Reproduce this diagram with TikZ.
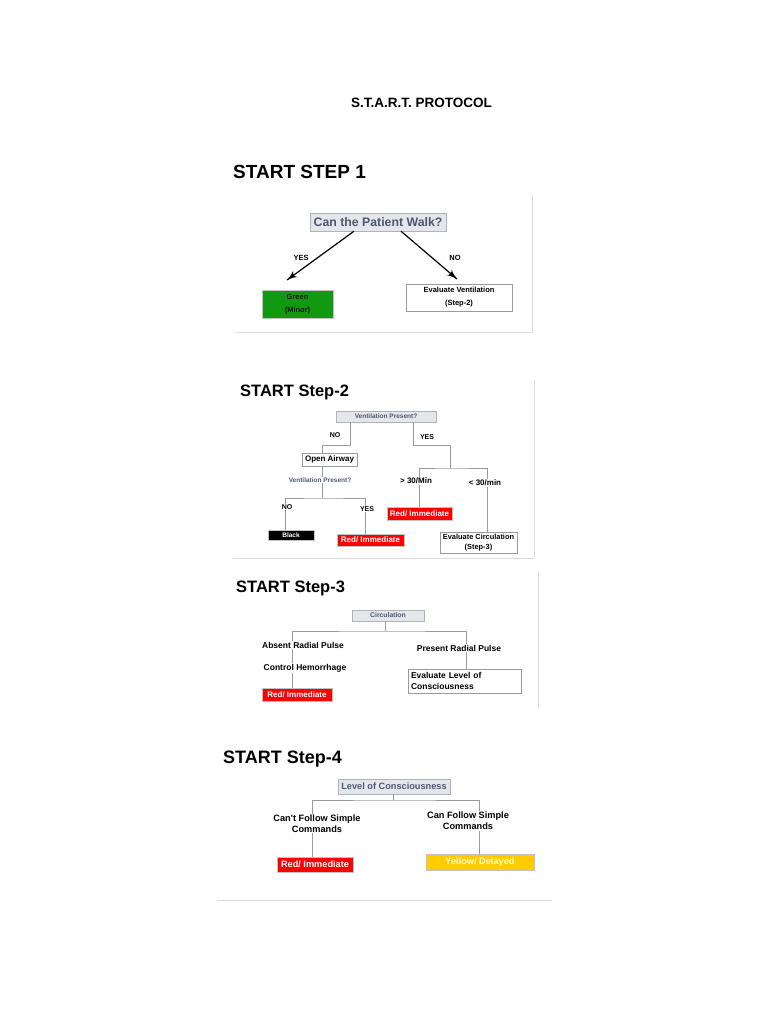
\documentclass[tikz,border=0pt]{standalone}
\usepackage{fontspec}
\setmainfont{Liberation Sans}
\usetikzlibrary{arrows}
\usetikzlibrary{decorations.markings}
\usetikzlibrary{positioning}
\definecolor{qfill}{HTML}{E4E6EA}
\definecolor{qline}{HTML}{AEB2BA}
\definecolor{qtext}{HTML}{4C5872}
\definecolor{treeline}{HTML}{9A9A9A}
\definecolor{panelgray}{HTML}{DCDCDC}
\definecolor{minorgreen}{HTML}{119911}
\definecolor{delayyellow}{HTML}{FFCC00}
\tikzset{->/.style = {decoration={markings,
                                  mark=at position 1 with {\arrow[scale=1.6]{latex'}}},
                      postaction={decorate}}}
\tikzset{qbox/.style = {draw=qline, fill=qfill, text=qtext, inner sep=0}}
\tikzset{wbox/.style = {draw=treeline, fill=white, inner sep=0, align=center}}
\tikzset{redbox/.style = {draw=treeline!60, fill=red, text=white, inner sep=0}}
\tikzset{lbl/.style = {fill=white, inner sep=1pt, align=center}}
\tikzset{tree/.style = {draw=treeline, line width=1pt}}
\tikzset{panelline/.style = {draw=panelgray, line width=1pt}}
\tikzset{steptitle/.style = {anchor=base west, inner sep=0}}

\begin{document}
\begin{tikzpicture}[x=1pt, y=-1pt]
    \useasboundingbox [fill=white] (0, 0) rectangle (768, 1024);
    \node [anchor=base, inner sep=0, font=\fontsize{13.5}{16}\selectfont\bfseries] (title) at (421.5, 108) {S.T.A.R.T. PROTOCOL};

    % step 1
    \node [steptitle, font=\fontsize{19}{22}\selectfont\bfseries] (titleA) at (233, 179) {START STEP 1};
    \node [qbox, minimum width=136pt, minimum height=18pt, font=\fontsize{12.3}{14}\selectfont\bfseries] (walk) at (378, 222) {Can the Patient Walk?};
    \node [draw=treeline!60, fill=minorgreen, text=black!90, inner sep=0, align=center, minimum width=71pt, minimum height=28pt,
           font=\fontsize{7.5}{13}\selectfont\bfseries] (green) at (297.5, 304) {Green\\(Minor)};
    \node [wbox, minimum width=106pt, minimum height=27pt, font=\fontsize{7.5}{13}\selectfont\bfseries] (evalvent) at (459, 297.5) {Evaluate Ventilation\\(Step-2)};
    \coordinate (yestip) at (287, 280);
    \coordinate (notip) at (457, 279);
    \draw [->, line width=1.2pt] ([xshift=-24pt]walk.south) -- (yestip);
    \draw [->, line width=1.2pt] ([xshift=23pt]walk.south) -- (notip);
    \node [lbl, font=\fontsize{7.5}{9}\selectfont\bfseries] (yesA) at (301, 258) {YES};
    \node [lbl, font=\fontsize{7.5}{9}\selectfont\bfseries] (noA) at (455, 258) {NO};
    \draw [panelline] (236, 332) -- (532, 332);
    \draw [panelline] (532, 195) -- (532, 332);

    % step 2
    \node [steptitle, font=\fontsize{16.5}{20}\selectfont\bfseries] (titleB) at (240, 396) {START Step-2};
    \node [qbox, minimum width=100pt, minimum height=11pt, font=\fontsize{6.5}{8}\selectfont\bfseries] (vent) at (386, 416.5) {Ventilation Present?};
    \node [wbox, minimum width=55pt, minimum height=13pt, font=\fontsize{8}{10}\selectfont\bfseries] (airway) at (329.5, 459.5) {Open Airway};
    \node [draw=treeline!60, fill=black, text=white, inner sep=0, minimum width=46pt, minimum height=10pt,
           font=\fontsize{6.5}{8}\selectfont\bfseries] (black) at (291, 535) {Black};
    \node [redbox, minimum width=67pt, minimum height=12pt, font=\fontsize{8}{10}\selectfont\bfseries] (redA) at (370.5, 540) {Red/ Immediate};
    \node [redbox, minimum width=65pt, minimum height=13pt, font=\fontsize{8}{10}\selectfont\bfseries] (redB) at (419.5, 513.5) {Red/ Immediate};
    \node [wbox, minimum width=77pt, minimum height=21pt, font=\fontsize{7.4}{10}\selectfont\bfseries] (circstep) at (478.5, 542.5) {Evaluate Circulation\\(Step-3)};
    \coordinate (airfork) at (322, 498);
    \coordinate (ratefork) at (450, 468);
    \draw [tree] ([xshift=-36pt]vent.south) -- ++(0, 23) -| ([xshift=-7.5pt]airway.north);
    \draw [tree] ([xshift=27pt]vent.south) -- ++(0, 23) -| (ratefork);
    \draw [tree] ([xshift=-7.5pt]airway.south) -- (airfork);
    \draw [tree] ([xshift=-6pt]black.north) |- (airfork) -| ([xshift=-5.5pt]redA.north);
    \draw [tree] (redB.north) |- (ratefork) -| ([xshift=8.5pt]circstep.north);
    \node [lbl, font=\fontsize{7}{9}\selectfont\bfseries] (noB) at (335, 435) {NO};
    \node [lbl, font=\fontsize{7}{9}\selectfont\bfseries] (yesB) at (427, 437) {YES};
    \node [lbl, text=qtext, font=\fontsize{6.5}{8}\selectfont\bfseries] (ventagain) at (320, 480) {Ventilation Present?};
    \node [lbl, font=\fontsize{7}{9}\selectfont\bfseries] (noC) at (287, 507) {NO};
    \node [lbl, font=\fontsize{7}{9}\selectfont\bfseries] (yesC) at (367, 509) {YES};
    \node [lbl, font=\fontsize{8}{10}\selectfont\bfseries] (fast) at (416, 481) {> 30/Min};
    \node [lbl, font=\fontsize{8}{10}\selectfont\bfseries] (slow) at (485, 483) {< 30/min};
    \draw [panelline] (534, 380) -- (534, 558);
    \draw [panelline] (233, 558) -- (534, 558);

    % step 3
    \node [steptitle, font=\fontsize{16.5}{20}\selectfont\bfseries] (titleC) at (236, 592) {START Step-3};
    \node [qbox, minimum width=72pt, minimum height=11pt, font=\fontsize{6.8}{8}\selectfont\bfseries] (circ) at (388, 615.5) {Circulation};
    \node [redbox, minimum width=70pt, minimum height=13pt, font=\fontsize{8}{10}\selectfont\bfseries] (redC) at (297, 694.5) {Red/ Immediate};
    \node [draw=treeline, fill=white, inner sep=3pt, minimum width=113pt, minimum height=24pt, text width=107pt, align=left,
           font=\fontsize{8.5}{11}\selectfont\bfseries] (conscious) at (464.5, 681) {Evaluate Level of\\Consciousness};
    \coordinate (circfork) at (385, 631);
    \draw [tree] ([xshift=-3pt]circ.south) -- (circfork);
    \draw [tree] ([xshift=-5pt]redC.north) |- (circfork) -| ([xshift=1.5pt]conscious.north);
    \node [lbl, font=\fontsize{8.5}{10}\selectfont\bfseries] (absent) at (303, 645) {Absent Radial Pulse};
    \node [lbl, font=\fontsize{8.5}{10}\selectfont\bfseries] (hemo) at (305, 668) {Control Hemorrhage};
    \node [lbl, font=\fontsize{8.5}{10}\selectfont\bfseries] (present) at (459, 648) {Present Radial Pulse};
    \draw [panelline] (538, 572) -- (538, 708);

    % step 4
    \node [steptitle, font=\fontsize{18}{22}\selectfont\bfseries] (titleD) at (223, 763) {START Step-4};
    \node [qbox, minimum width=112pt, minimum height=15pt, font=\fontsize{9.2}{11}\selectfont\bfseries] (loc) at (394, 786.5) {Level of Consciousness};
    \node [redbox, minimum width=76pt, minimum height=15pt, font=\fontsize{9.2}{11}\selectfont\bfseries] (redD) at (315, 864.5) {Red/ Immediate};
    \node [draw=treeline!60, fill=delayyellow, text=yellow!20, inner sep=0, minimum width=108pt, minimum height=16pt,
           font=\fontsize{9.2}{11}\selectfont\bfseries] (yellow) at (480, 862) {Yellow/ Delayed};
    \coordinate (locfork) at (393, 800);
    \draw [tree] ([xshift=-1pt]loc.south) -- (locfork);
    \draw [tree] ([xshift=-3pt]redD.north) |- (locfork) -| ([xshift=-1pt]yellow.north);
    \node [lbl, font=\fontsize{9.2}{11}\selectfont\bfseries] (cant) at (317, 823.5) {Can\textquotesingle t Follow Simple\\Commands};
    \node [lbl, font=\fontsize{9.2}{11}\selectfont\bfseries] (can) at (468, 821) {Can Follow Simple\\Commands};
    \draw [panelline] (217, 900) -- (552, 900);
  \end{tikzpicture}
\end{document}
